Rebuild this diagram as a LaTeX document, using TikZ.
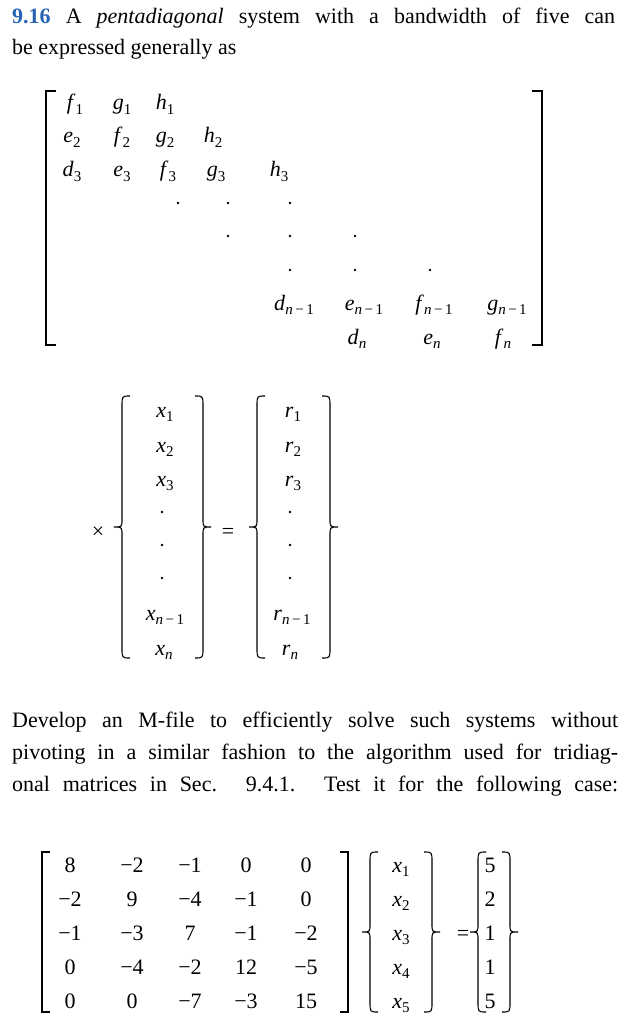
\documentclass[tikz,border=0pt]{standalone}
\usepackage{fontspec}
\setmainfont{Liberation Serif}
\definecolor{hblue}{RGB}{40,100,180}
\newcommand{\subx}[1]{\raisebox{-0.4ex}{\fontsize{15}{15}\selectfont #1}}
\newcommand{\ent}[2]{\textit{#1}\subx{#2}}
\newcommand{\entn}[2]{\textit{#1}\subx{\textit{#2}}}
\newcommand{\entm}[2]{\textit{#1}\subx{\textit{#2}\,\textminus\,1}}
\newcommand{\lbrc}[3]{\draw[bc] (#1+8,#2) .. controls (#1,#2) .. (#1,#2+10) -- (#1,#3*0.5+#2*0.5-8) .. controls (#1,#3*0.5+#2*0.5) .. (#1-8,#3*0.5+#2*0.5) .. controls (#1,#3*0.5+#2*0.5) .. (#1,#3*0.5+#2*0.5+8) -- (#1,#3-10) .. controls (#1,#3) .. (#1+8,#3);}
\newcommand{\rbrc}[3]{\draw[bc] (#1-8,#2) .. controls (#1,#2) .. (#1,#2+10) -- (#1,#3*0.5+#2*0.5-8) .. controls (#1,#3*0.5+#2*0.5) .. (#1+8,#3*0.5+#2*0.5) .. controls (#1,#3*0.5+#2*0.5) .. (#1,#3*0.5+#2*0.5+8) -- (#1,#3-10) .. controls (#1,#3) .. (#1-8,#3);}
\newcommand{\mrow}[6]{\node[e] at (70,#1) {#2};\node[e] at (132,#1) {#3};\node[e] at (190,#1) {#4};\node[e] at (246,#1) {#5};\node[e] at (306,#1) {#6};}
\begin{document}
\begin{tikzpicture}[x=1pt,y=-1pt,font=\fontsize{22}{26}\selectfont,
  t/.style={anchor=base west,inner sep=0},
  e/.style={anchor=base,inner sep=0},
  br/.style={line width=1.2pt},
  bc/.style={line width=1.1pt}]
\useasboundingbox (0,0) rectangle (642,1024);
\node[t] (l1) at (12,24) {\makebox[603pt][s]{\textcolor{hblue}{\textbf{9.16}} A \textit{pentadiagonal} system with a bandwidth of five can}};
\node[t] (l2) at (12,55) {be expressed generally as};
% big matrix brackets
\draw[br] (56,91) -- (46,91) -- (46,345) -- (56,345);
\draw[br] (532,91) -- (542,91) -- (542,345) -- (532,345);
\foreach \x/\y/\s in {75/110/\ent{f}{1},122/110/\ent{g}{1},165/110/\ent{h}{1},
  72/143/\ent{e}{2},122/143/\ent{f}{2},165/143/\ent{g}{2},213/143/\ent{h}{2},
  72/177/\ent{d}{3},122/177/\ent{e}{3},168/177/\ent{f}{3},216/177/\ent{g}{3},279/177/\ent{h}{3},
  294/310/\entm{d}{n},364/310/\entm{e}{n},434/310/\entm{f}{n},507/310/\entm{g}{n},
  357/344/\entn{d}{n},432/344/\entn{e}{n},503/344/\entn{f}{n}}
  \node[e] at (\x,\y) {\s};
\foreach \x/\y in {178/203,228/203,290/203,228/236,290/236,355/236,290/270,355/270,430/270}
  \fill (\x,\y) circle (1.3pt);
% vectors
\lbrc{122}{396}{658}
\rbrc{203}{396}{658}
\lbrc{257}{396}{658}
\rbrc{330}{396}{658}
\foreach \y/\i in {417/1,452/2,486/3}{
  \node[e] at (165,\y) {\ent{x}{\i}};
  \node[e] at (293,\y) {\ent{r}{\i}};}
\node[e] at (165,620) {\entm{x}{n}};
\node[e] at (164,655) {\entn{x}{n}};
\node[e] at (292,620) {\entm{r}{n}};
\node[e] at (290,655) {\entn{r}{n}};
\foreach \y in {512,545,578}{\fill (162,\y) circle (1.3pt); \fill (290,\y) circle (1.3pt);}
\node[e] (times) at (98,538) {\texttimes};
\node[e] (eq1) at (228,538) {=};
% paragraph
\node[t] (p1) at (12,727) {\makebox[606pt][s]{Develop an M-file to efficiently solve such systems without}};
\node[t] (p2) at (12,759) {\makebox[606pt][s]{pivoting in a similar fashion to the algorithm used for tridiag-}};
\node[t] (p3) at (12,791) {\makebox[606pt][s]{onal matrices in Sec. 9.4.1. Test it for the following case:}};
% bottom matrix
\draw[br] (50,852) -- (42,852) -- (42,1012) -- (50,1012);
\draw[br] (340,852) -- (348,852) -- (348,1012) -- (340,1012);
\mrow{872}{8}{\textminus2}{\textminus1}{0}{0}
\mrow{906}{\textminus2}{9}{\textminus4}{\textminus1}{0}
\mrow{940}{\textminus1}{\textminus3}{7}{\textminus1}{\textminus2}
\mrow{974}{0}{\textminus4}{\textminus2}{12}{\textminus5}
\mrow{1008}{0}{0}{\textminus7}{\textminus3}{15}
\lbrc{370}{852}{1012}
\rbrc{432}{852}{1012}
\lbrc{478}{852}{1012}
\rbrc{510}{852}{1012}
\foreach \i/\v [count=\k from 0] in {1/5,2/2,3/1,4/1,5/5}{
  \node[e] at (401,872+34*\k) {\ent{x}{\i}};
  \node[e] at (490,872+34*\k) {\v};}
\node[e] (eq2) at (463,940) {=};
\end{tikzpicture}
\end{document}
